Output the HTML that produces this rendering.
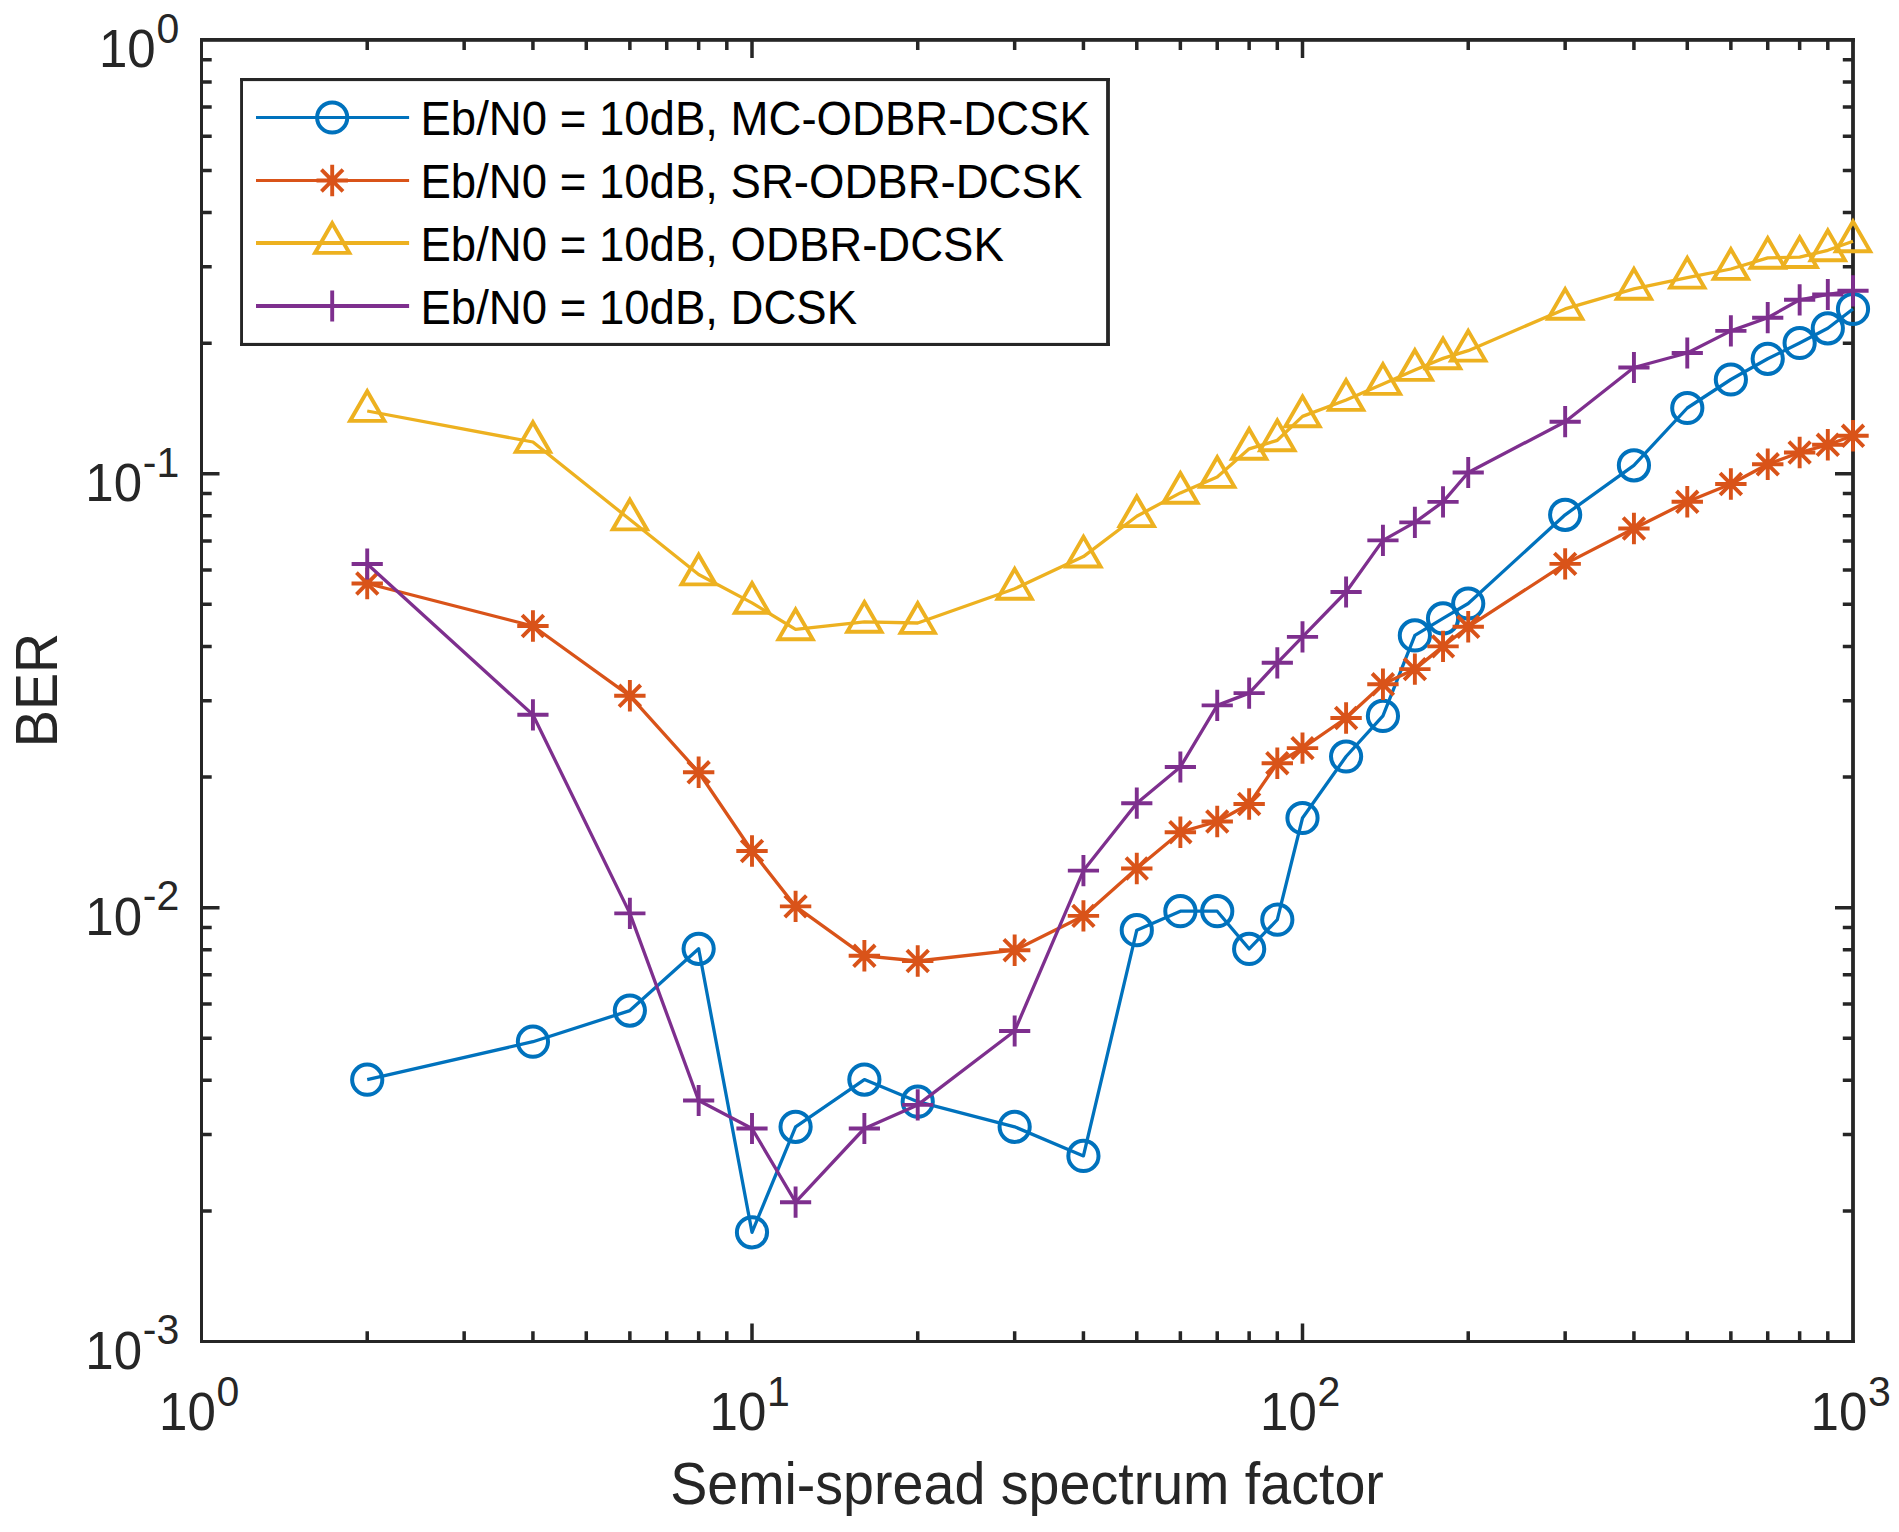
<!DOCTYPE html>
<html lang="en"><head><meta charset="utf-8"><title>BER vs Semi-spread spectrum factor</title>
<style>html,body{margin:0;padding:0;background:#fff}body{width:1899px;height:1532px;overflow:hidden}</style></head>
<body>
<svg width="1899" height="1532" viewBox="0 0 1899 1532" style="display:block;font-family:'Liberation Sans',Arial,Helvetica,sans-serif">
<rect width="1899" height="1532" fill="#fff"/>
<g fill="#262626">
<rect x="200" y="38" width="3" height="1305"/>
<rect x="1851.1" y="38" width="3.8" height="1305"/>
<rect x="200" y="38" width="1654.9" height="3.8"/>
<rect x="200" y="1340" width="1654.9" height="3"/>
</g>
<path d="M367.22 1341.50v-10.20M367.22 39.90v10.20M464.16 1341.50v-10.20M464.16 39.90v10.20M532.93 1341.50v-10.20M532.93 39.90v10.20M586.28 1341.50v-10.20M586.28 39.90v10.20M629.87 1341.50v-10.20M629.87 39.90v10.20M666.73 1341.50v-10.20M666.73 39.90v10.20M698.65 1341.50v-10.20M698.65 39.90v10.20M726.81 1341.50v-10.20M726.81 39.90v10.20M752.00 1341.50v-18.00M752.00 39.90v18.00M917.72 1341.50v-10.20M917.72 39.90v10.20M1014.66 1341.50v-10.20M1014.66 39.90v10.20M1083.43 1341.50v-10.20M1083.43 39.90v10.20M1136.78 1341.50v-10.20M1136.78 39.90v10.20M1180.37 1341.50v-10.20M1180.37 39.90v10.20M1217.23 1341.50v-10.20M1217.23 39.90v10.20M1249.15 1341.50v-10.20M1249.15 39.90v10.20M1277.31 1341.50v-10.20M1277.31 39.90v10.20M1302.50 1341.50v-18.00M1302.50 39.90v18.00M1468.22 1341.50v-10.20M1468.22 39.90v10.20M1565.16 1341.50v-10.20M1565.16 39.90v10.20M1633.93 1341.50v-10.20M1633.93 39.90v10.20M1687.28 1341.50v-10.20M1687.28 39.90v10.20M1730.87 1341.50v-10.20M1730.87 39.90v10.20M1767.73 1341.50v-10.20M1767.73 39.90v10.20M1799.65 1341.50v-10.20M1799.65 39.90v10.20M1827.81 1341.50v-10.20M1827.81 39.90v10.20M201.50 473.77h18.00M1853.00 473.77h-18.00M201.50 343.16h10.20M1853.00 343.16h-10.20M201.50 266.76h10.20M1853.00 266.76h-10.20M201.50 212.55h10.20M1853.00 212.55h-10.20M201.50 170.51h10.20M1853.00 170.51h-10.20M201.50 136.15h10.20M1853.00 136.15h-10.20M201.50 107.11h10.20M1853.00 107.11h-10.20M201.50 81.95h10.20M1853.00 81.95h-10.20M201.50 59.75h10.20M1853.00 59.75h-10.20M201.50 907.63h18.00M1853.00 907.63h-18.00M201.50 777.03h10.20M1853.00 777.03h-10.20M201.50 700.63h10.20M1853.00 700.63h-10.20M201.50 646.42h10.20M1853.00 646.42h-10.20M201.50 604.37h10.20M1853.00 604.37h-10.20M201.50 570.02h10.20M1853.00 570.02h-10.20M201.50 540.97h10.20M1853.00 540.97h-10.20M201.50 515.81h10.20M1853.00 515.81h-10.20M201.50 493.62h10.20M1853.00 493.62h-10.20M201.50 1210.89h10.20M1853.00 1210.89h-10.20M201.50 1134.49h10.20M1853.00 1134.49h-10.20M201.50 1080.29h10.20M1853.00 1080.29h-10.20M201.50 1038.24h10.20M1853.00 1038.24h-10.20M201.50 1003.89h10.20M1853.00 1003.89h-10.20M201.50 974.84h10.20M1853.00 974.84h-10.20M201.50 949.68h10.20M1853.00 949.68h-10.20M201.50 927.49h10.20M1853.00 927.49h-10.20" stroke="#262626" stroke-width="3.5" fill="none"/>
<text transform="translate(179.20 67.20) scale(1 1.05)" text-anchor="end" font-size="51.0" fill="#262626">10<tspan font-size="41.0" dy="-23.33" dx="0.7">0</tspan></text>
<text transform="translate(179.20 501.07) scale(1 1.05)" text-anchor="end" font-size="51.0" fill="#262626">10<tspan font-size="41.0" dy="-23.33" dx="0.7">-1</tspan></text>
<text transform="translate(179.20 934.93) scale(1 1.05)" text-anchor="end" font-size="51.0" fill="#262626">10<tspan font-size="41.0" dy="-23.33" dx="0.7">-2</tspan></text>
<text transform="translate(179.20 1368.80) scale(1 1.05)" text-anchor="end" font-size="51.0" fill="#262626">10<tspan font-size="41.0" dy="-23.33" dx="0.7">-3</tspan></text>
<text transform="translate(199.20 1430.00) scale(1 1.05)" text-anchor="middle" font-size="51.0" fill="#262626">10<tspan font-size="41.0" dy="-23.33" dx="0.7">0</tspan></text>
<text transform="translate(749.70 1430.00) scale(1 1.05)" text-anchor="middle" font-size="51.0" fill="#262626">10<tspan font-size="41.0" dy="-23.33" dx="0.7">1</tspan></text>
<text transform="translate(1300.20 1430.00) scale(1 1.05)" text-anchor="middle" font-size="51.0" fill="#262626">10<tspan font-size="41.0" dy="-23.33" dx="0.7">2</tspan></text>
<text transform="translate(1850.70 1430.00) scale(1 1.05)" text-anchor="middle" font-size="51.0" fill="#262626">10<tspan font-size="41.0" dy="-23.33" dx="0.7">3</tspan></text>
<text transform="translate(1027 1504) scale(1 1.05)" text-anchor="middle" font-size="55.6" fill="#262626">Semi-spread spectrum factor</text>
<text transform="translate(57.2 690) rotate(-90) scale(1 1.05)" text-anchor="middle" font-size="55.6" fill="#262626">BER</text>
<polyline points="367.22,1079.70 532.93,1041.70 629.87,1010.60 698.65,948.80 752.00,1232.30 795.59,1126.80 864.37,1079.60 917.72,1101.70 1014.66,1126.80 1083.43,1155.90 1136.78,930.20 1180.37,911.20 1217.23,911.20 1249.15,948.90 1277.31,919.70 1302.50,818.00 1346.09,756.50 1382.94,715.90 1414.87,635.40 1443.03,618.40 1468.22,603.50 1565.16,514.80 1633.93,465.30 1687.28,408.00 1730.87,379.50 1767.73,358.80 1799.65,343.00 1827.81,328.30 1853.00,309.00" fill="none" stroke="#0072BD" stroke-width="3.3" stroke-linejoin="round"/>
<g><circle cx="367.22" cy="1079.70" r="15.1" fill="none" stroke="#0072BD" stroke-width="4"/><circle cx="532.93" cy="1041.70" r="15.1" fill="none" stroke="#0072BD" stroke-width="4"/><circle cx="629.87" cy="1010.60" r="15.1" fill="none" stroke="#0072BD" stroke-width="4"/><circle cx="698.65" cy="948.80" r="15.1" fill="none" stroke="#0072BD" stroke-width="4"/><circle cx="752.00" cy="1232.30" r="15.1" fill="none" stroke="#0072BD" stroke-width="4"/><circle cx="795.59" cy="1126.80" r="15.1" fill="none" stroke="#0072BD" stroke-width="4"/><circle cx="864.37" cy="1079.60" r="15.1" fill="none" stroke="#0072BD" stroke-width="4"/><circle cx="917.72" cy="1101.70" r="15.1" fill="none" stroke="#0072BD" stroke-width="4"/><circle cx="1014.66" cy="1126.80" r="15.1" fill="none" stroke="#0072BD" stroke-width="4"/><circle cx="1083.43" cy="1155.90" r="15.1" fill="none" stroke="#0072BD" stroke-width="4"/><circle cx="1136.78" cy="930.20" r="15.1" fill="none" stroke="#0072BD" stroke-width="4"/><circle cx="1180.37" cy="911.20" r="15.1" fill="none" stroke="#0072BD" stroke-width="4"/><circle cx="1217.23" cy="911.20" r="15.1" fill="none" stroke="#0072BD" stroke-width="4"/><circle cx="1249.15" cy="948.90" r="15.1" fill="none" stroke="#0072BD" stroke-width="4"/><circle cx="1277.31" cy="919.70" r="15.1" fill="none" stroke="#0072BD" stroke-width="4"/><circle cx="1302.50" cy="818.00" r="15.1" fill="none" stroke="#0072BD" stroke-width="4"/><circle cx="1346.09" cy="756.50" r="15.1" fill="none" stroke="#0072BD" stroke-width="4"/><circle cx="1382.94" cy="715.90" r="15.1" fill="none" stroke="#0072BD" stroke-width="4"/><circle cx="1414.87" cy="635.40" r="15.1" fill="none" stroke="#0072BD" stroke-width="4"/><circle cx="1443.03" cy="618.40" r="15.1" fill="none" stroke="#0072BD" stroke-width="4"/><circle cx="1468.22" cy="603.50" r="15.1" fill="none" stroke="#0072BD" stroke-width="4"/><circle cx="1565.16" cy="514.80" r="15.1" fill="none" stroke="#0072BD" stroke-width="4"/><circle cx="1633.93" cy="465.30" r="15.1" fill="none" stroke="#0072BD" stroke-width="4"/><circle cx="1687.28" cy="408.00" r="15.1" fill="none" stroke="#0072BD" stroke-width="4"/><circle cx="1730.87" cy="379.50" r="15.1" fill="none" stroke="#0072BD" stroke-width="4"/><circle cx="1767.73" cy="358.80" r="15.1" fill="none" stroke="#0072BD" stroke-width="4"/><circle cx="1799.65" cy="343.00" r="15.1" fill="none" stroke="#0072BD" stroke-width="4"/><circle cx="1827.81" cy="328.30" r="15.1" fill="none" stroke="#0072BD" stroke-width="4"/><circle cx="1853.00" cy="309.00" r="15.1" fill="none" stroke="#0072BD" stroke-width="4"/></g>
<polyline points="367.22,583.50 532.93,626.00 629.87,695.80 698.65,772.30 752.00,851.00 795.59,906.40 864.37,955.80 917.72,961.00 1014.66,950.20 1083.43,915.90 1136.78,868.50 1180.37,832.20 1217.23,821.50 1249.15,804.00 1277.31,763.20 1302.50,748.10 1346.09,718.00 1382.94,684.30 1414.87,669.10 1443.03,646.40 1468.22,626.80 1565.16,563.90 1633.93,528.50 1687.28,501.80 1730.87,484.00 1767.73,464.30 1799.65,452.50 1827.81,444.80 1853.00,435.80" fill="none" stroke="#D95319" stroke-width="3.3" stroke-linejoin="round"/>
<g><path d="M351.52 583.50h31.4M367.22 567.80v31.4M356.42 572.70l21.6 21.6M356.42 594.30l21.6 -21.6" stroke="#D95319" stroke-width="3.9" fill="none"/><path d="M517.23 626.00h31.4M532.93 610.30v31.4M522.13 615.20l21.6 21.6M522.13 636.80l21.6 -21.6" stroke="#D95319" stroke-width="3.9" fill="none"/><path d="M614.17 695.80h31.4M629.87 680.10v31.4M619.07 685.00l21.6 21.6M619.07 706.60l21.6 -21.6" stroke="#D95319" stroke-width="3.9" fill="none"/><path d="M682.95 772.30h31.4M698.65 756.60v31.4M687.85 761.50l21.6 21.6M687.85 783.10l21.6 -21.6" stroke="#D95319" stroke-width="3.9" fill="none"/><path d="M736.30 851.00h31.4M752.00 835.30v31.4M741.20 840.20l21.6 21.6M741.20 861.80l21.6 -21.6" stroke="#D95319" stroke-width="3.9" fill="none"/><path d="M779.89 906.40h31.4M795.59 890.70v31.4M784.79 895.60l21.6 21.6M784.79 917.20l21.6 -21.6" stroke="#D95319" stroke-width="3.9" fill="none"/><path d="M848.67 955.80h31.4M864.37 940.10v31.4M853.57 945.00l21.6 21.6M853.57 966.60l21.6 -21.6" stroke="#D95319" stroke-width="3.9" fill="none"/><path d="M902.02 961.00h31.4M917.72 945.30v31.4M906.92 950.20l21.6 21.6M906.92 971.80l21.6 -21.6" stroke="#D95319" stroke-width="3.9" fill="none"/><path d="M998.96 950.20h31.4M1014.66 934.50v31.4M1003.86 939.40l21.6 21.6M1003.86 961.00l21.6 -21.6" stroke="#D95319" stroke-width="3.9" fill="none"/><path d="M1067.73 915.90h31.4M1083.43 900.20v31.4M1072.63 905.10l21.6 21.6M1072.63 926.70l21.6 -21.6" stroke="#D95319" stroke-width="3.9" fill="none"/><path d="M1121.08 868.50h31.4M1136.78 852.80v31.4M1125.98 857.70l21.6 21.6M1125.98 879.30l21.6 -21.6" stroke="#D95319" stroke-width="3.9" fill="none"/><path d="M1164.67 832.20h31.4M1180.37 816.50v31.4M1169.57 821.40l21.6 21.6M1169.57 843.00l21.6 -21.6" stroke="#D95319" stroke-width="3.9" fill="none"/><path d="M1201.53 821.50h31.4M1217.23 805.80v31.4M1206.43 810.70l21.6 21.6M1206.43 832.30l21.6 -21.6" stroke="#D95319" stroke-width="3.9" fill="none"/><path d="M1233.45 804.00h31.4M1249.15 788.30v31.4M1238.35 793.20l21.6 21.6M1238.35 814.80l21.6 -21.6" stroke="#D95319" stroke-width="3.9" fill="none"/><path d="M1261.61 763.20h31.4M1277.31 747.50v31.4M1266.51 752.40l21.6 21.6M1266.51 774.00l21.6 -21.6" stroke="#D95319" stroke-width="3.9" fill="none"/><path d="M1286.80 748.10h31.4M1302.50 732.40v31.4M1291.70 737.30l21.6 21.6M1291.70 758.90l21.6 -21.6" stroke="#D95319" stroke-width="3.9" fill="none"/><path d="M1330.39 718.00h31.4M1346.09 702.30v31.4M1335.29 707.20l21.6 21.6M1335.29 728.80l21.6 -21.6" stroke="#D95319" stroke-width="3.9" fill="none"/><path d="M1367.24 684.30h31.4M1382.94 668.60v31.4M1372.14 673.50l21.6 21.6M1372.14 695.10l21.6 -21.6" stroke="#D95319" stroke-width="3.9" fill="none"/><path d="M1399.17 669.10h31.4M1414.87 653.40v31.4M1404.07 658.30l21.6 21.6M1404.07 679.90l21.6 -21.6" stroke="#D95319" stroke-width="3.9" fill="none"/><path d="M1427.33 646.40h31.4M1443.03 630.70v31.4M1432.23 635.60l21.6 21.6M1432.23 657.20l21.6 -21.6" stroke="#D95319" stroke-width="3.9" fill="none"/><path d="M1452.52 626.80h31.4M1468.22 611.10v31.4M1457.42 616.00l21.6 21.6M1457.42 637.60l21.6 -21.6" stroke="#D95319" stroke-width="3.9" fill="none"/><path d="M1549.46 563.90h31.4M1565.16 548.20v31.4M1554.36 553.10l21.6 21.6M1554.36 574.70l21.6 -21.6" stroke="#D95319" stroke-width="3.9" fill="none"/><path d="M1618.23 528.50h31.4M1633.93 512.80v31.4M1623.13 517.70l21.6 21.6M1623.13 539.30l21.6 -21.6" stroke="#D95319" stroke-width="3.9" fill="none"/><path d="M1671.58 501.80h31.4M1687.28 486.10v31.4M1676.48 491.00l21.6 21.6M1676.48 512.60l21.6 -21.6" stroke="#D95319" stroke-width="3.9" fill="none"/><path d="M1715.17 484.00h31.4M1730.87 468.30v31.4M1720.07 473.20l21.6 21.6M1720.07 494.80l21.6 -21.6" stroke="#D95319" stroke-width="3.9" fill="none"/><path d="M1752.03 464.30h31.4M1767.73 448.60v31.4M1756.93 453.50l21.6 21.6M1756.93 475.10l21.6 -21.6" stroke="#D95319" stroke-width="3.9" fill="none"/><path d="M1783.95 452.50h31.4M1799.65 436.80v31.4M1788.85 441.70l21.6 21.6M1788.85 463.30l21.6 -21.6" stroke="#D95319" stroke-width="3.9" fill="none"/><path d="M1812.11 444.80h31.4M1827.81 429.10v31.4M1817.01 434.00l21.6 21.6M1817.01 455.60l21.6 -21.6" stroke="#D95319" stroke-width="3.9" fill="none"/><path d="M1837.30 435.80h31.4M1853.00 420.10v31.4M1842.20 425.00l21.6 21.6M1842.20 446.60l21.6 -21.6" stroke="#D95319" stroke-width="3.9" fill="none"/></g>
<polyline points="367.22,411.00 532.93,442.00 629.87,519.50 698.65,574.50 752.00,602.90 795.59,629.30 864.37,621.90 917.72,623.00 1014.66,588.80 1083.43,556.60 1136.78,516.20 1180.37,492.90 1217.23,477.00 1249.15,448.80 1277.31,440.30 1302.50,416.40 1346.09,400.00 1382.94,384.00 1414.87,370.00 1443.03,358.40 1468.22,350.70 1565.16,308.90 1633.93,288.80 1687.28,277.70 1730.87,269.00 1767.73,257.90 1799.65,257.10 1827.81,250.30 1853.00,241.30" fill="none" stroke="#EDB120" stroke-width="3.3" stroke-linejoin="round"/>
<g><path d="M367.22 391.20L384.36 420.90L350.07 420.90Z" stroke="#EDB120" stroke-width="3.9" fill="none" stroke-linejoin="miter"/><path d="M532.93 422.20L550.08 451.90L515.79 451.90Z" stroke="#EDB120" stroke-width="3.9" fill="none" stroke-linejoin="miter"/><path d="M629.87 499.70L647.02 529.40L612.72 529.40Z" stroke="#EDB120" stroke-width="3.9" fill="none" stroke-linejoin="miter"/><path d="M698.65 554.70L715.80 584.40L681.50 584.40Z" stroke="#EDB120" stroke-width="3.9" fill="none" stroke-linejoin="miter"/><path d="M752.00 583.10L769.15 612.80L734.85 612.80Z" stroke="#EDB120" stroke-width="3.9" fill="none" stroke-linejoin="miter"/><path d="M795.59 609.50L812.74 639.20L778.44 639.20Z" stroke="#EDB120" stroke-width="3.9" fill="none" stroke-linejoin="miter"/><path d="M864.37 602.10L881.52 631.80L847.22 631.80Z" stroke="#EDB120" stroke-width="3.9" fill="none" stroke-linejoin="miter"/><path d="M917.72 603.20L934.86 632.90L900.57 632.90Z" stroke="#EDB120" stroke-width="3.9" fill="none" stroke-linejoin="miter"/><path d="M1014.66 569.00L1031.80 598.70L997.51 598.70Z" stroke="#EDB120" stroke-width="3.9" fill="none" stroke-linejoin="miter"/><path d="M1083.43 536.80L1100.58 566.50L1066.29 566.50Z" stroke="#EDB120" stroke-width="3.9" fill="none" stroke-linejoin="miter"/><path d="M1136.78 496.40L1153.93 526.10L1119.64 526.10Z" stroke="#EDB120" stroke-width="3.9" fill="none" stroke-linejoin="miter"/><path d="M1180.37 473.10L1197.52 502.80L1163.22 502.80Z" stroke="#EDB120" stroke-width="3.9" fill="none" stroke-linejoin="miter"/><path d="M1217.23 457.20L1234.37 486.90L1200.08 486.90Z" stroke="#EDB120" stroke-width="3.9" fill="none" stroke-linejoin="miter"/><path d="M1249.15 429.00L1266.30 458.70L1232.00 458.70Z" stroke="#EDB120" stroke-width="3.9" fill="none" stroke-linejoin="miter"/><path d="M1277.31 420.50L1294.46 450.20L1260.16 450.20Z" stroke="#EDB120" stroke-width="3.9" fill="none" stroke-linejoin="miter"/><path d="M1302.50 396.60L1319.65 426.30L1285.35 426.30Z" stroke="#EDB120" stroke-width="3.9" fill="none" stroke-linejoin="miter"/><path d="M1346.09 380.20L1363.24 409.90L1328.94 409.90Z" stroke="#EDB120" stroke-width="3.9" fill="none" stroke-linejoin="miter"/><path d="M1382.94 364.20L1400.09 393.90L1365.80 393.90Z" stroke="#EDB120" stroke-width="3.9" fill="none" stroke-linejoin="miter"/><path d="M1414.87 350.20L1432.02 379.90L1397.72 379.90Z" stroke="#EDB120" stroke-width="3.9" fill="none" stroke-linejoin="miter"/><path d="M1443.03 338.60L1460.17 368.30L1425.88 368.30Z" stroke="#EDB120" stroke-width="3.9" fill="none" stroke-linejoin="miter"/><path d="M1468.22 330.90L1485.36 360.60L1451.07 360.60Z" stroke="#EDB120" stroke-width="3.9" fill="none" stroke-linejoin="miter"/><path d="M1565.16 289.10L1582.30 318.80L1548.01 318.80Z" stroke="#EDB120" stroke-width="3.9" fill="none" stroke-linejoin="miter"/><path d="M1633.93 269.00L1651.08 298.70L1616.79 298.70Z" stroke="#EDB120" stroke-width="3.9" fill="none" stroke-linejoin="miter"/><path d="M1687.28 257.90L1704.43 287.60L1670.14 287.60Z" stroke="#EDB120" stroke-width="3.9" fill="none" stroke-linejoin="miter"/><path d="M1730.87 249.20L1748.02 278.90L1713.72 278.90Z" stroke="#EDB120" stroke-width="3.9" fill="none" stroke-linejoin="miter"/><path d="M1767.73 238.10L1784.87 267.80L1750.58 267.80Z" stroke="#EDB120" stroke-width="3.9" fill="none" stroke-linejoin="miter"/><path d="M1799.65 237.30L1816.80 267.00L1782.50 267.00Z" stroke="#EDB120" stroke-width="3.9" fill="none" stroke-linejoin="miter"/><path d="M1827.81 230.50L1844.96 260.20L1810.66 260.20Z" stroke="#EDB120" stroke-width="3.9" fill="none" stroke-linejoin="miter"/><path d="M1853.00 221.50L1870.15 251.20L1835.85 251.20Z" stroke="#EDB120" stroke-width="3.9" fill="none" stroke-linejoin="miter"/></g>
<polyline points="367.22,564.00 532.93,714.80 629.87,913.40 698.65,1100.50 752.00,1128.50 795.59,1202.20 864.37,1128.50 917.72,1104.90 1014.66,1031.00 1083.43,870.60 1136.78,803.20 1180.37,767.00 1217.23,705.40 1249.15,693.10 1277.31,662.80 1302.50,636.90 1346.09,592.00 1382.94,540.40 1414.87,522.40 1443.03,501.90 1468.22,472.50 1565.16,421.70 1633.93,367.50 1687.28,353.00 1730.87,330.90 1767.73,317.70 1799.65,299.80 1827.81,294.50 1853.00,290.80" fill="none" stroke="#7E2F8E" stroke-width="3.3" stroke-linejoin="round"/>
<g><path d="M351.62 564.00h31.2M367.22 548.40v31.2" stroke="#7E2F8E" stroke-width="3.9" fill="none"/><path d="M517.33 714.80h31.2M532.93 699.20v31.2" stroke="#7E2F8E" stroke-width="3.9" fill="none"/><path d="M614.27 913.40h31.2M629.87 897.80v31.2" stroke="#7E2F8E" stroke-width="3.9" fill="none"/><path d="M683.05 1100.50h31.2M698.65 1084.90v31.2" stroke="#7E2F8E" stroke-width="3.9" fill="none"/><path d="M736.40 1128.50h31.2M752.00 1112.90v31.2" stroke="#7E2F8E" stroke-width="3.9" fill="none"/><path d="M779.99 1202.20h31.2M795.59 1186.60v31.2" stroke="#7E2F8E" stroke-width="3.9" fill="none"/><path d="M848.77 1128.50h31.2M864.37 1112.90v31.2" stroke="#7E2F8E" stroke-width="3.9" fill="none"/><path d="M902.12 1104.90h31.2M917.72 1089.30v31.2" stroke="#7E2F8E" stroke-width="3.9" fill="none"/><path d="M999.06 1031.00h31.2M1014.66 1015.40v31.2" stroke="#7E2F8E" stroke-width="3.9" fill="none"/><path d="M1067.83 870.60h31.2M1083.43 855.00v31.2" stroke="#7E2F8E" stroke-width="3.9" fill="none"/><path d="M1121.18 803.20h31.2M1136.78 787.60v31.2" stroke="#7E2F8E" stroke-width="3.9" fill="none"/><path d="M1164.77 767.00h31.2M1180.37 751.40v31.2" stroke="#7E2F8E" stroke-width="3.9" fill="none"/><path d="M1201.63 705.40h31.2M1217.23 689.80v31.2" stroke="#7E2F8E" stroke-width="3.9" fill="none"/><path d="M1233.55 693.10h31.2M1249.15 677.50v31.2" stroke="#7E2F8E" stroke-width="3.9" fill="none"/><path d="M1261.71 662.80h31.2M1277.31 647.20v31.2" stroke="#7E2F8E" stroke-width="3.9" fill="none"/><path d="M1286.90 636.90h31.2M1302.50 621.30v31.2" stroke="#7E2F8E" stroke-width="3.9" fill="none"/><path d="M1330.49 592.00h31.2M1346.09 576.40v31.2" stroke="#7E2F8E" stroke-width="3.9" fill="none"/><path d="M1367.34 540.40h31.2M1382.94 524.80v31.2" stroke="#7E2F8E" stroke-width="3.9" fill="none"/><path d="M1399.27 522.40h31.2M1414.87 506.80v31.2" stroke="#7E2F8E" stroke-width="3.9" fill="none"/><path d="M1427.43 501.90h31.2M1443.03 486.30v31.2" stroke="#7E2F8E" stroke-width="3.9" fill="none"/><path d="M1452.62 472.50h31.2M1468.22 456.90v31.2" stroke="#7E2F8E" stroke-width="3.9" fill="none"/><path d="M1549.56 421.70h31.2M1565.16 406.10v31.2" stroke="#7E2F8E" stroke-width="3.9" fill="none"/><path d="M1618.33 367.50h31.2M1633.93 351.90v31.2" stroke="#7E2F8E" stroke-width="3.9" fill="none"/><path d="M1671.68 353.00h31.2M1687.28 337.40v31.2" stroke="#7E2F8E" stroke-width="3.9" fill="none"/><path d="M1715.27 330.90h31.2M1730.87 315.30v31.2" stroke="#7E2F8E" stroke-width="3.9" fill="none"/><path d="M1752.13 317.70h31.2M1767.73 302.10v31.2" stroke="#7E2F8E" stroke-width="3.9" fill="none"/><path d="M1784.05 299.80h31.2M1799.65 284.20v31.2" stroke="#7E2F8E" stroke-width="3.9" fill="none"/><path d="M1812.21 294.50h31.2M1827.81 278.90v31.2" stroke="#7E2F8E" stroke-width="3.9" fill="none"/><path d="M1837.40 290.80h31.2M1853.00 275.20v31.2" stroke="#7E2F8E" stroke-width="3.9" fill="none"/></g>
<rect x="241.5" y="79.5" width="866.5" height="265" fill="#fff"/>
<g fill="#262626"><rect x="240.1" y="78" width="2.9" height="268"/><rect x="1106.1" y="78" width="3.8" height="268"/><rect x="240.1" y="78" width="869.8" height="3.1"/><rect x="240.1" y="342.9" width="869.8" height="3.1"/></g>
<rect x="256" y="116" width="153.1" height="3" fill="#0072BD"/>
<circle cx="332.20" cy="117.50" r="15.1" fill="none" stroke="#0072BD" stroke-width="4"/>
<text transform="translate(420.5 135.0) scale(1 1.05)" font-size="45.55" fill="#000">Eb/N0 = 10dB, MC-ODBR-DCSK</text>
<rect x="256" y="179" width="153.1" height="3" fill="#D95319"/>
<path d="M316.50 180.50h31.4M332.20 164.80v31.4M321.40 169.70l21.6 21.6M321.40 191.30l21.6 -21.6" stroke="#D95319" stroke-width="3.9" fill="none"/>
<text transform="translate(420.5 197.9) scale(1 1.05)" font-size="45.55" fill="#000">Eb/N0 = 10dB, SR-ODBR-DCSK</text>
<rect x="256" y="241" width="153.1" height="4" fill="#EDB120"/>
<path d="M332.20 223.20L349.35 252.90L315.05 252.90Z" stroke="#EDB120" stroke-width="3.9" fill="none" stroke-linejoin="miter"/>
<text transform="translate(420.5 260.8) scale(1 1.05)" font-size="45.55" fill="#000">Eb/N0 = 10dB, ODBR-DCSK</text>
<rect x="256" y="304" width="153.1" height="4" fill="#7E2F8E"/>
<path d="M316.60 306.00h31.2M332.20 290.40v31.2" stroke="#7E2F8E" stroke-width="3.9" fill="none"/>
<text transform="translate(420.5 323.7) scale(1 1.05)" font-size="45.55" fill="#000">Eb/N0 = 10dB, DCSK</text>
</svg>
</body></html>
